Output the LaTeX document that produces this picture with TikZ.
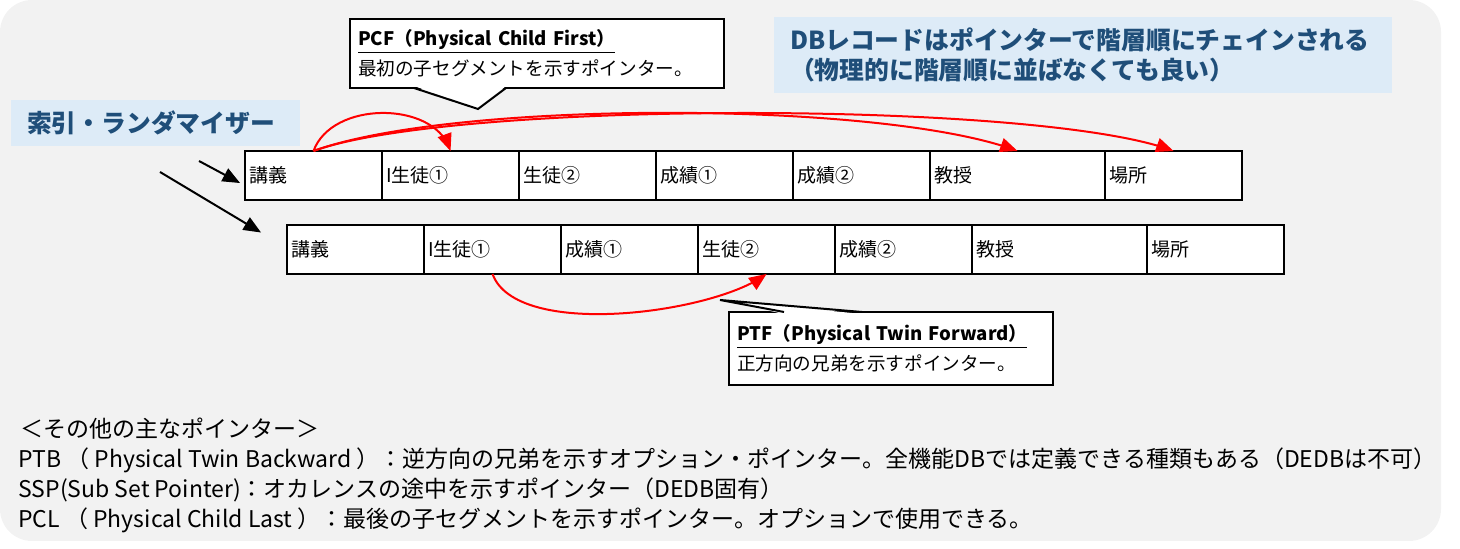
\documentclass[tikz,border=0pt]{standalone}
\usepackage{fontspec}
\setmainfont{Noto Sans CJK JP}
\usetikzlibrary{arrows,shapes,positioning}
\definecolor{bggray}{RGB}{242,242,242}
\definecolor{notefill}{RGB}{221,235,247}
\definecolor{notetext}{RGB}{31,78,121}

\begin{document}
\begin{tikzpicture}[x=0.5pt, y=0.5pt, auto]
\tikzstyle{cell} = [rectangle, draw, line width=1pt, fill=white, outer sep=0pt,
  inner xsep=2pt, inner ysep=0pt, minimum height=24.5pt, text width=64.5pt,
  align=left, font=\fontsize{9.5pt}{11pt}\selectfont]
\tikzstyle{widecell} = [cell, text width=83.5pt]
\tikzstyle{callout} = [rectangle, draw, line width=1pt, fill=white, outer sep=0pt,
  inner xsep=4pt, align=left, anchor=north west, font=\fontsize{9.3pt}{15pt}\selectfont]
\tikzstyle{note} = [rectangle, fill=notefill, text=notetext, inner xsep=8pt,
  align=left, font=\bfseries\fontsize{12.4pt}{15pt}\selectfont]
\tikzstyle{pointer} = [-triangle 45, line width=1pt, draw=red]
\tikzstyle{index} = [-triangle 45, line width=1pt, draw]
\tikzstyle{other} = [anchor=base west, inner sep=0pt, font=\fontsize{11.5pt}{15pt}\selectfont]

    \useasboundingbox (0,0) rectangle (1460,549);
    \fill[bggray, rounded corners=16pt] (0,8) rectangle (1441,549);

    % notes
    \node [note, minimum height=23pt, text width=128.5pt] (randomizer) at (155.5,426) {索引・ランダマイザー};
    \node [note, minimum height=38pt, text width=293pt] (chain) at (1083,494)
    {DBレコードはポインターで階層順にチェインされる\\（物理的に階層順に並ばなくても良い）};

    % hierarchical sequence
    \node [cell, anchor=north west] (lec) at (245,398) {講義};
    \node [cell, right=0pt of lec] (st1) {I生徒①};
    \node [cell, right=0pt of st1] (st2) {生徒②};
    \node [cell, right=0pt of st2] (gr1) {成績①};
    \node [cell, right=0pt of gr1] (gr2) {成績②};
    \node [widecell, right=0pt of gr2] (prof) {教授};
    \node [cell, right=0pt of prof] (room) {場所};

    % physical sequence
    \node [cell, anchor=north west] (lecB) at (287,324) {講義};
    \node [cell, right=0pt of lecB] (st1B) {I生徒①};
    \node [cell, right=0pt of st1B] (gr1B) {成績①};
    \node [cell, right=0pt of gr1B] (st2B) {生徒②};
    \node [cell, right=0pt of st2B] (gr2B) {成績②};
    \node [widecell, right=0pt of gr2B] (profB) {教授};
    \node [cell, right=0pt of profB] (roomB) {場所};

    \coordinate (idx1) at (199,388);
    \coordinate (idx2) at (160,377);
    \draw [index] (idx1) -- ([shift={(-2.5pt,-3.75pt)}]lec.west);
    \draw [index] (idx2) -- ([shift={(-13pt,8.5pt)}]lecB.west);

    % pointers
    \draw [pointer] (lec.north) to [out=70, in=110] (st1.north);
    \draw [pointer] (lec.north) to [out=20, in=160, looseness=0.54] (prof.north);
    \draw [pointer] (lec.north) to [out=20, in=160, looseness=0.44] (room.north);
    \draw [pointer] (st1B.south) to [out=-70, in=-145, looseness=0.65] (st2B.south);

    % callouts
    \node [callout, minimum height=34.5pt, text width=179pt] (pcf) at (350,530)
    {\textbf{\underline{PCF（Physical Child First）}}\\最初の子セグメントを示すポインター。};
    \coordinate (pcftip) at (478,440);
    \fill [white] ([xshift=32pt,yshift=1pt]pcf.south west) -- (pcftip) -- ([xshift=78pt,yshift=1pt]pcf.south west) -- cycle;
    \draw [line width=1pt] ([xshift=32pt]pcf.south west) -- (pcftip) -- ([xshift=78pt]pcf.south west);

    \node [callout, minimum height=36.5pt, text width=154pt] (ptf) at (729,237)
    {\textbf{\underline{PTF（Physical Twin Forward）}}\\正方向の兄弟を示すポインター。};
    \coordinate (ptftip) at (720,249);
    \fill [white] ([xshift=27.5pt,yshift=-1pt]ptf.north west) -- (ptftip) -- ([xshift=66.5pt,yshift=-1pt]ptf.north west) -- cycle;
    \draw [line width=1pt] ([xshift=27.5pt]ptf.north west) -- (ptftip) -- ([xshift=66.5pt]ptf.north west);

    % other pointers
    \node [other] (others) at (20,111) {＜その他の主なポインター＞};
    \node [other] (ptb) at (18,81) {PTB （ Physical Twin Backward ）：逆方向の兄弟を示すオプション・ポインター。全機能DBでは定義できる種類もある（DEDBは不可）};
    \node [other] (ssp) at (18,51) {SSP(Sub Set Pointer)：オカレンスの途中を示すポインター（DEDB固有）};
    \node [other] (pcl) at (18,21) {PCL （ Physical Child Last ）：最後の子セグメントを示すポインター。オプションで使用できる。};
\end{tikzpicture}
\end{document}
